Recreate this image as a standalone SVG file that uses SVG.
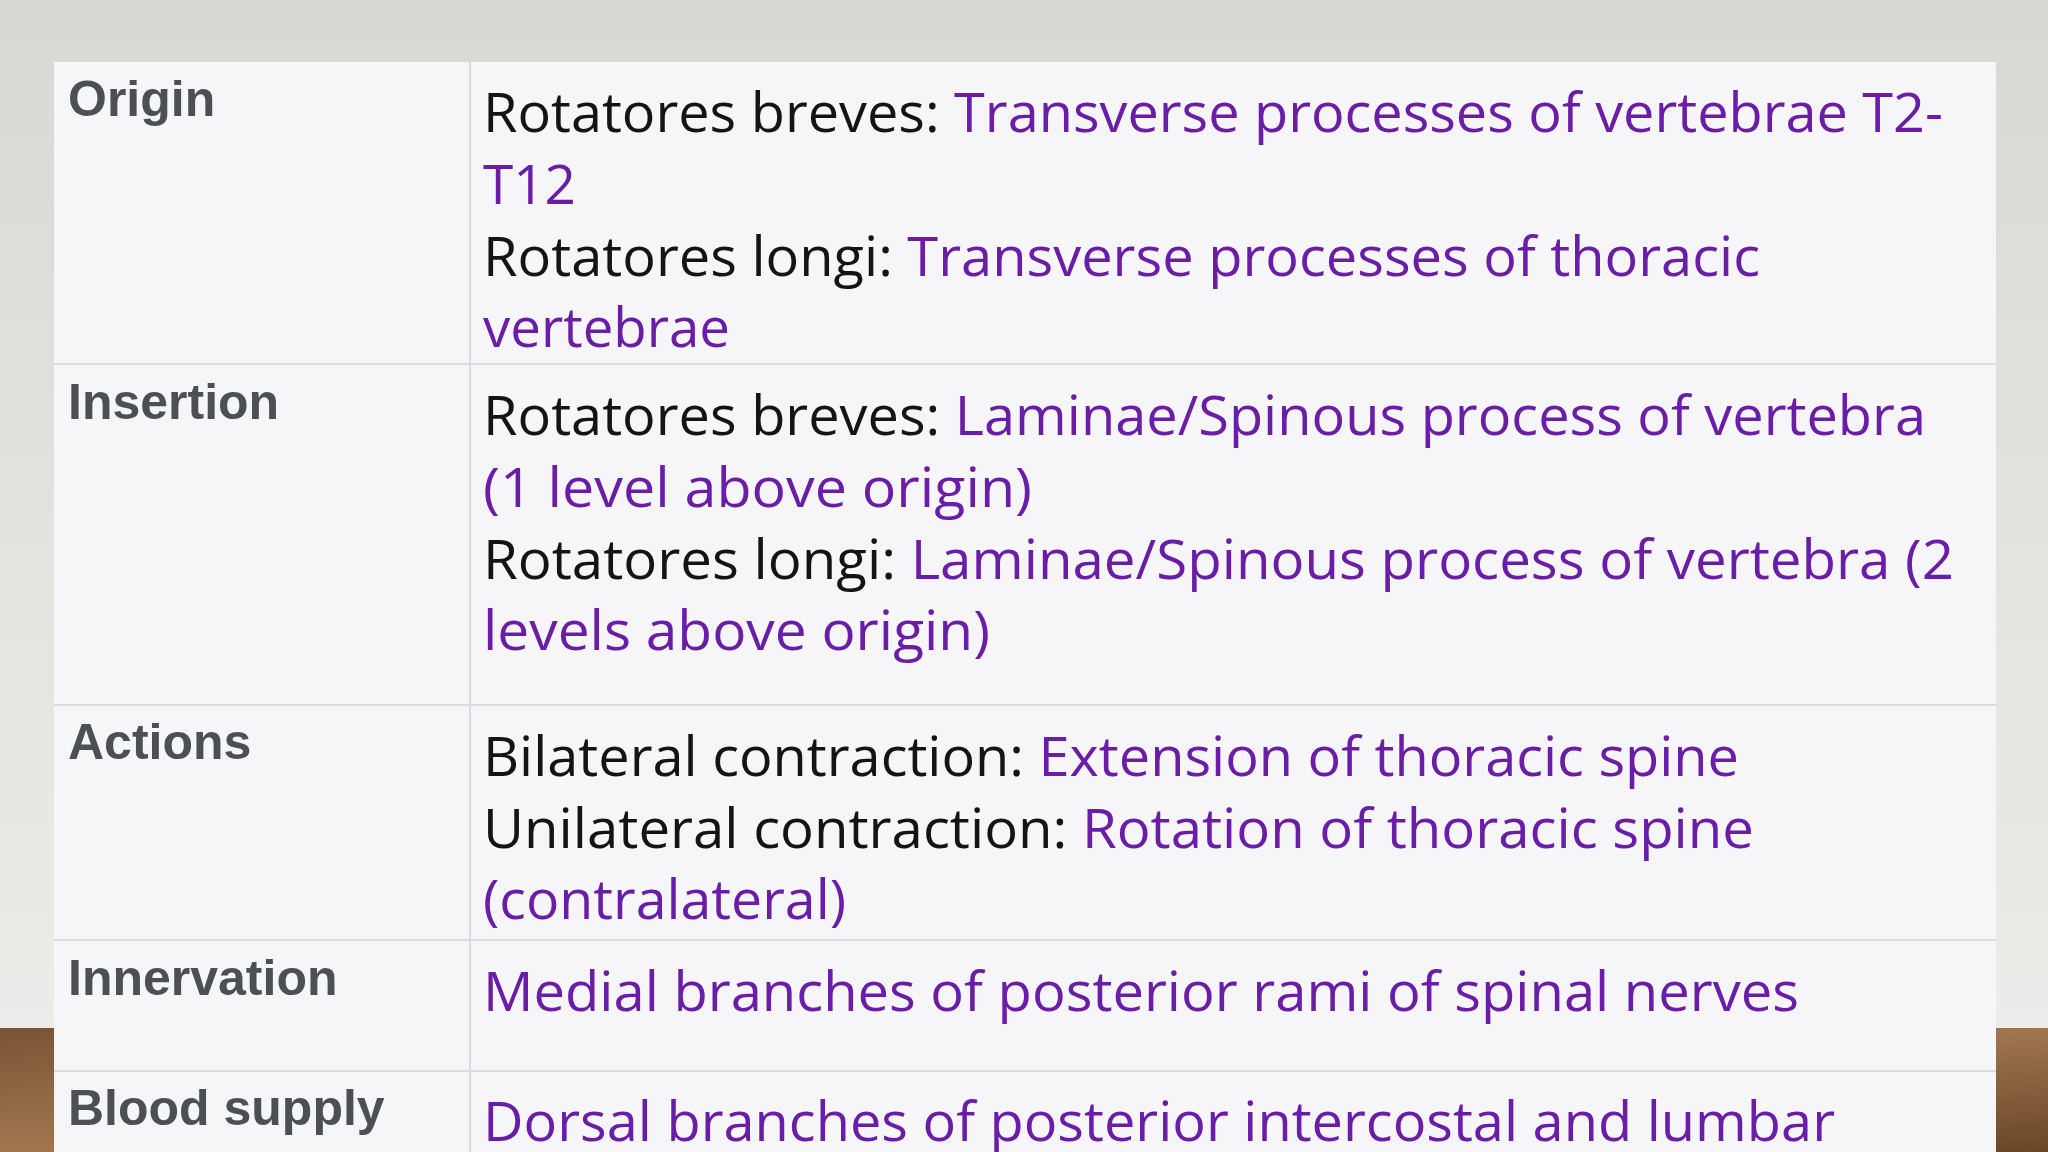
<svg xmlns="http://www.w3.org/2000/svg" width="2048" height="1152" viewBox="0 0 2048 1152">
<defs>
<linearGradient id="wall" x1="0" y1="0" x2="0" y2="1"><stop offset="0" stop-color="#d9d8d4"/><stop offset="1" stop-color="#eeeeec"/></linearGradient>
<linearGradient id="wood" x1="0" y1="0" x2="1" y2="1"><stop offset="0" stop-color="#7a5535"/><stop offset="0.5" stop-color="#a07650"/><stop offset="1" stop-color="#6a4628"/></linearGradient>
<style>
.lbl{font-family:"Liberation Sans",Arial,sans-serif;font-weight:bold;font-size:50px;fill:#4b5052}
.t{font-family:"Open Sans","Noto Sans",sans-serif;font-size:54px;fill:#6a1ea8}
.k{fill:#141414}
.ln{stroke:#dcdce0;stroke-width:2}
</style>
</defs>
<rect width="2048" height="1152" fill="url(#wall)"/>
<rect x="0" y="1028" width="2048" height="124" fill="url(#wood)"/>
<rect x="54" y="62" width="1942" height="1090" fill="#f6f6f9"/>
<g id="grid">
<line class="ln" x1="470" y1="62" x2="470" y2="1152"/>
<line class="ln" x1="54" y1="364" x2="1996" y2="364"/>
<line class="ln" x1="54" y1="705" x2="1996" y2="705"/>
<line class="ln" x1="54" y1="940" x2="1996" y2="940"/>
<line class="ln" x1="54" y1="1071" x2="1996" y2="1071"/>
</g>
<g id="origin">
<text class="lbl" x="68" y="116">Origin</text>
<text class="t" x="483" y="132" textLength="1460" lengthAdjust="spacingAndGlyphs"><tspan class="k">Rotatores breves:</tspan> Transverse processes of vertebrae T2-</text>
<text class="t" x="483" y="204" textLength="93" lengthAdjust="spacingAndGlyphs">T12</text>
<text class="t" x="483" y="276" textLength="1277" lengthAdjust="spacingAndGlyphs"><tspan class="k">Rotatores longi:</tspan> Transverse processes of thoracic</text>
<text class="t" x="483" y="347" textLength="247" lengthAdjust="spacingAndGlyphs">vertebrae</text>
</g>
<g id="insertion">
<text class="lbl" x="68" y="419">Insertion</text>
<text class="t" x="483" y="435" textLength="1443" lengthAdjust="spacingAndGlyphs"><tspan class="k">Rotatores breves:</tspan> Laminae/Spinous process of vertebra</text>
<text class="t" x="483" y="507" textLength="549" lengthAdjust="spacingAndGlyphs">(1 level above origin)</text>
<text class="t" x="483" y="579" textLength="1471" lengthAdjust="spacingAndGlyphs"><tspan class="k">Rotatores longi:</tspan> Laminae/Spinous process of vertebra (2</text>
<text class="t" x="483" y="650" textLength="507" lengthAdjust="spacingAndGlyphs">levels above origin)</text>
</g>
<g id="actions">
<text class="lbl" x="68" y="759">Actions</text>
<text class="t" x="483" y="776" textLength="1256" lengthAdjust="spacingAndGlyphs"><tspan class="k">Bilateral contraction:</tspan> Extension of thoracic spine</text>
<text class="t" x="483" y="848" textLength="1271" lengthAdjust="spacingAndGlyphs"><tspan class="k">Unilateral contraction:</tspan> Rotation of thoracic spine</text>
<text class="t" x="483" y="919" textLength="363" lengthAdjust="spacingAndGlyphs">(contralateral)</text>
</g>
<g id="innervation">
<text class="lbl" x="68" y="995">Innervation</text>
<text class="t" x="483" y="1011" textLength="1316" lengthAdjust="spacingAndGlyphs">Medial branches of posterior rami of spinal nerves</text>
</g>
<g id="blood">
<text class="lbl" x="68" y="1125">Blood supply</text>
<text class="t" x="483" y="1141" textLength="1352" lengthAdjust="spacingAndGlyphs">Dorsal branches of posterior intercostal and lumbar</text>
</g>
</svg>
